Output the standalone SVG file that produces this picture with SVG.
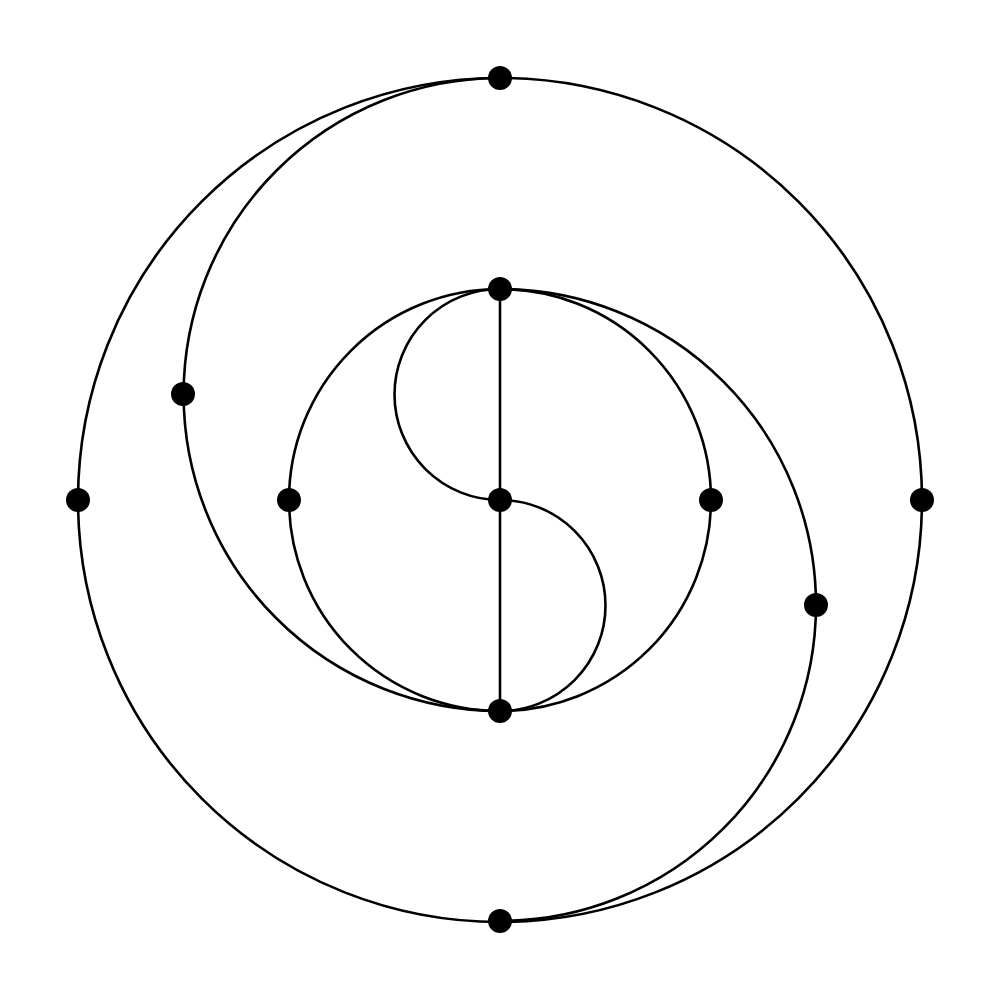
<svg xmlns="http://www.w3.org/2000/svg" width="1000" height="1000" viewBox="0 0 1000 1000">
<style>
.l{fill:none;stroke:#000;stroke-width:2.6}
.d{fill:#000}
</style>
<rect width="1000" height="1000" fill="#fff"/>
<g id="connectors">
<circle class="l" cx="500" cy="500" r="422"/>
<circle class="l" cx="500" cy="500" r="211"/>
<path class="l" d="M500,78 A316.5,316.5 0 0 0 500,711"/>
<path class="l" d="M500,289 A316,316 0 0 1 500,921"/>
<path class="l" d="M500,289 A105.5,105.5 0 0 0 500,500 A105.5,105.5 0 0 1 500,711"/>
<line class="l" x1="500" y1="289" x2="500" y2="711"/>
</g>
<g id="nodes">
<circle id="n-top" class="d" cx="500" cy="78" r="12"/>
<circle id="n-innertop" class="d" cx="500" cy="289" r="12"/>
<circle id="n-leftarc" class="d" cx="183" cy="394" r="12"/>
<circle id="n-left" class="d" cx="78" cy="500" r="12"/>
<circle id="n-innerleft" class="d" cx="289" cy="500" r="12"/>
<circle id="n-center" class="d" cx="500" cy="500" r="12"/>
<circle id="n-innerright" class="d" cx="711" cy="500" r="12"/>
<circle id="n-right" class="d" cx="922" cy="500" r="12"/>
<circle id="n-rightarc" class="d" cx="816" cy="605" r="12"/>
<circle id="n-innerbottom" class="d" cx="500" cy="711" r="12"/>
<circle id="n-bottom" class="d" cx="500" cy="921" r="12"/>
</g>
</svg>
